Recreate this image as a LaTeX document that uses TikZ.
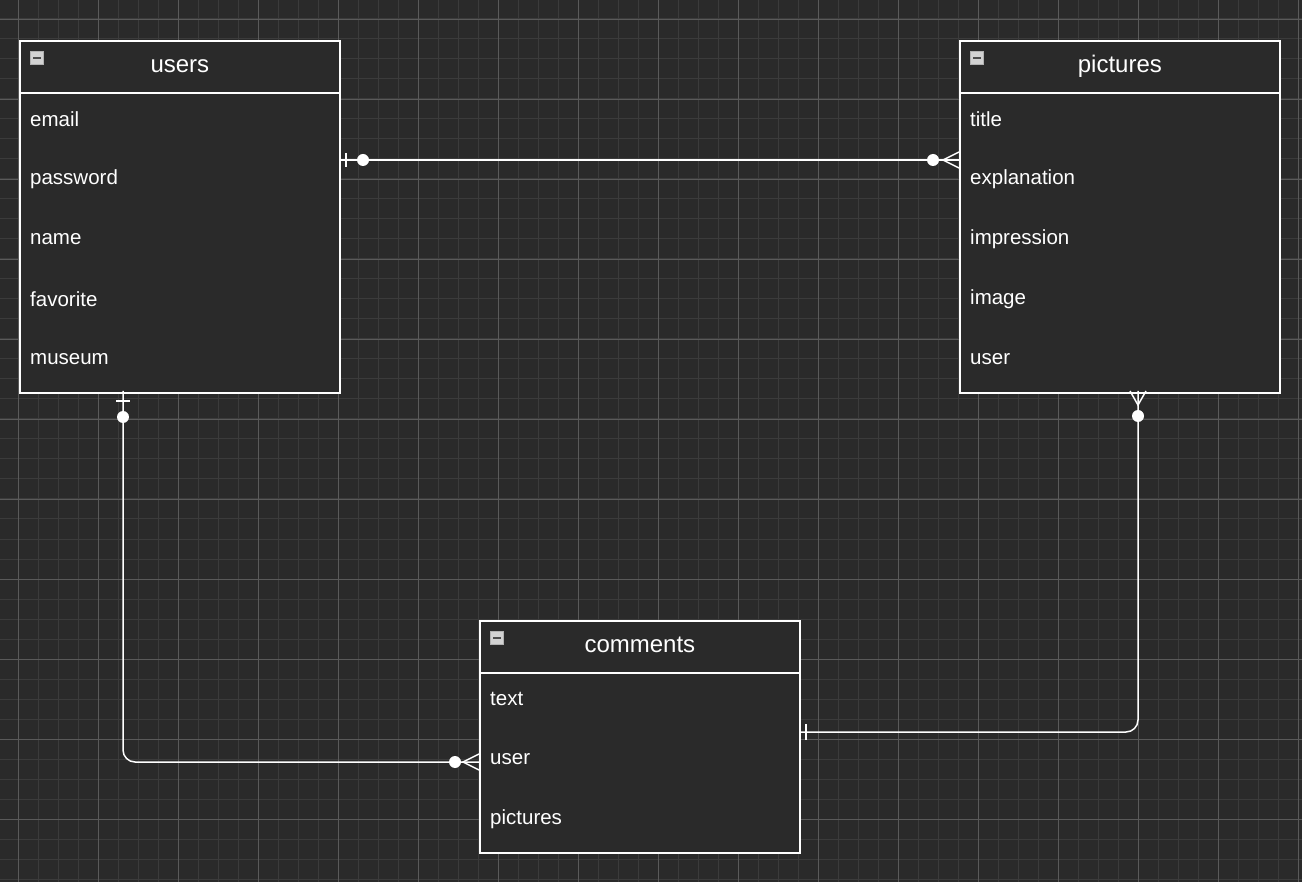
\documentclass[tikz,border=0pt]{standalone}
\usepackage{fontspec}
\setmainfont{Liberation Sans}
\begin{document}
\begin{tikzpicture}[x=1pt,y=-1pt,
  tbl/.style={draw=white,line width=1.8pt,fill=bgc,minimum width=320pt,anchor=north west,inner sep=0pt},
  hdr/.style={tbl,minimum height=52pt,font=\fontsize{24}{28}\selectfont,text=white,text height=15pt,text depth=3pt},
  body/.style={tbl,minimum height=300pt},
  fld/.style={anchor=west,text=white,font=\fontsize{20.5}{24}\selectfont,inner sep=0pt},
  rel/.style={draw=white,line width=1.5pt,rounded corners=12pt},
  dot/.style={circle,fill=white,inner sep=0pt,minimum size=12pt},
  icon/.style={draw=gray!60,fill=gray!35,minimum size=13pt,inner sep=0pt}]
\definecolor{bgc}{HTML}{2A2A2A}
\definecolor{minor}{HTML}{3B3B3B}
\definecolor{major}{HTML}{5A5A5A}
\useasboundingbox (0,0) rectangle (1302,882);
\fill[bgc] (0,0) rectangle (1302,882);
\foreach \x in {-2,18,...,1302} \draw[minor,line width=1pt] (\x,0) -- (\x,882);
\foreach \y in {-1,19,...,882} \draw[minor,line width=1pt] (0,\y) -- (1302,\y);
\foreach \x in {18,98,...,1302} \draw[major,line width=0.8pt] (\x,0) -- (\x,882);
\foreach \y in {19,99,...,882} \draw[major,line width=0.8pt] (0,\y) -- (1302,\y);
% tables
\node[body,minimum height=300pt] (ub) at (19,92) {};
\node[hdr] (uh) at (19,40) {users};
\node[body,minimum height=300pt] (pb) at (959,92) {};
\node[hdr] (ph) at (959,40) {pictures};
\node[body,minimum height=180pt] (cb) at (479,672) {};
\node[hdr] (ch) at (479,620) {comments};
\foreach \n/\x/\y in {ui/37/58,pi/977/58,ci/497/638}
  \node[icon] (\n) at (\x,\y) {};
\foreach \n/\x/\y in {ui/37/58,pi/977/58,ci/497/638}
  \draw[black!70,line width=1.5pt] (\x-4,\y) -- (\x+4,\y);
\foreach \t [count=\i] in {email,password,name,favorite,museum}
  \node[fld] (u\i) at (30,59+60*\i) {\t};
\foreach \t [count=\i] in {title,explanation,impression,image,user}
  \node[fld] (p\i) at (970,59+60*\i) {\t};
\foreach \t [count=\i] in {text,user,pictures}
  \node[fld] (c\i) at (490,639+60*\i) {\t};
% connector ends
\coordinate (a1) at (339,160); \coordinate (a2) at (959,160);
\coordinate (b1) at (123,391); \coordinate (b2) at (479,762);
\coordinate (d1) at (1138,391); \coordinate (d2) at (799,732);
\draw[rel] (a1) -- (a2);
\draw[rel] (b1) |- (b2);
\draw[rel] (d1) |- (d2);
% users-pictures
\draw[white,line width=1.5pt] ([xshift=7]a1) ++(0,-7) -- ++(0,14);
\node[dot] at ([xshift=24]a1) {};
\node[dot] at ([xshift=-26]a2) {};
\draw[white,line width=1.5pt] ([yshift=-8]a2) -- ([xshift=-16]a2) -- ([yshift=8]a2);
% users-comments
\draw[white,line width=1.5pt] ([yshift=-10]b1) ++(-7,0) -- ++(14,0);
\node[dot] at ([yshift=-26]b1) {};
\node[dot] at ([xshift=-24]b2) {};
\draw[white,line width=1.5pt] ([yshift=-8]b2) -- ([xshift=-16]b2) -- ([yshift=8]b2);
% pictures-comments
\draw[white,line width=1.5pt] ([xshift=-8]d1) -- ([yshift=-14]d1) -- ([xshift=8]d1);
\node[dot] at ([yshift=-25]d1) {};
\draw[white,line width=1.5pt] ([xshift=7]d2) ++(0,-8) -- ++(0,16);
\end{tikzpicture}
\end{document}
